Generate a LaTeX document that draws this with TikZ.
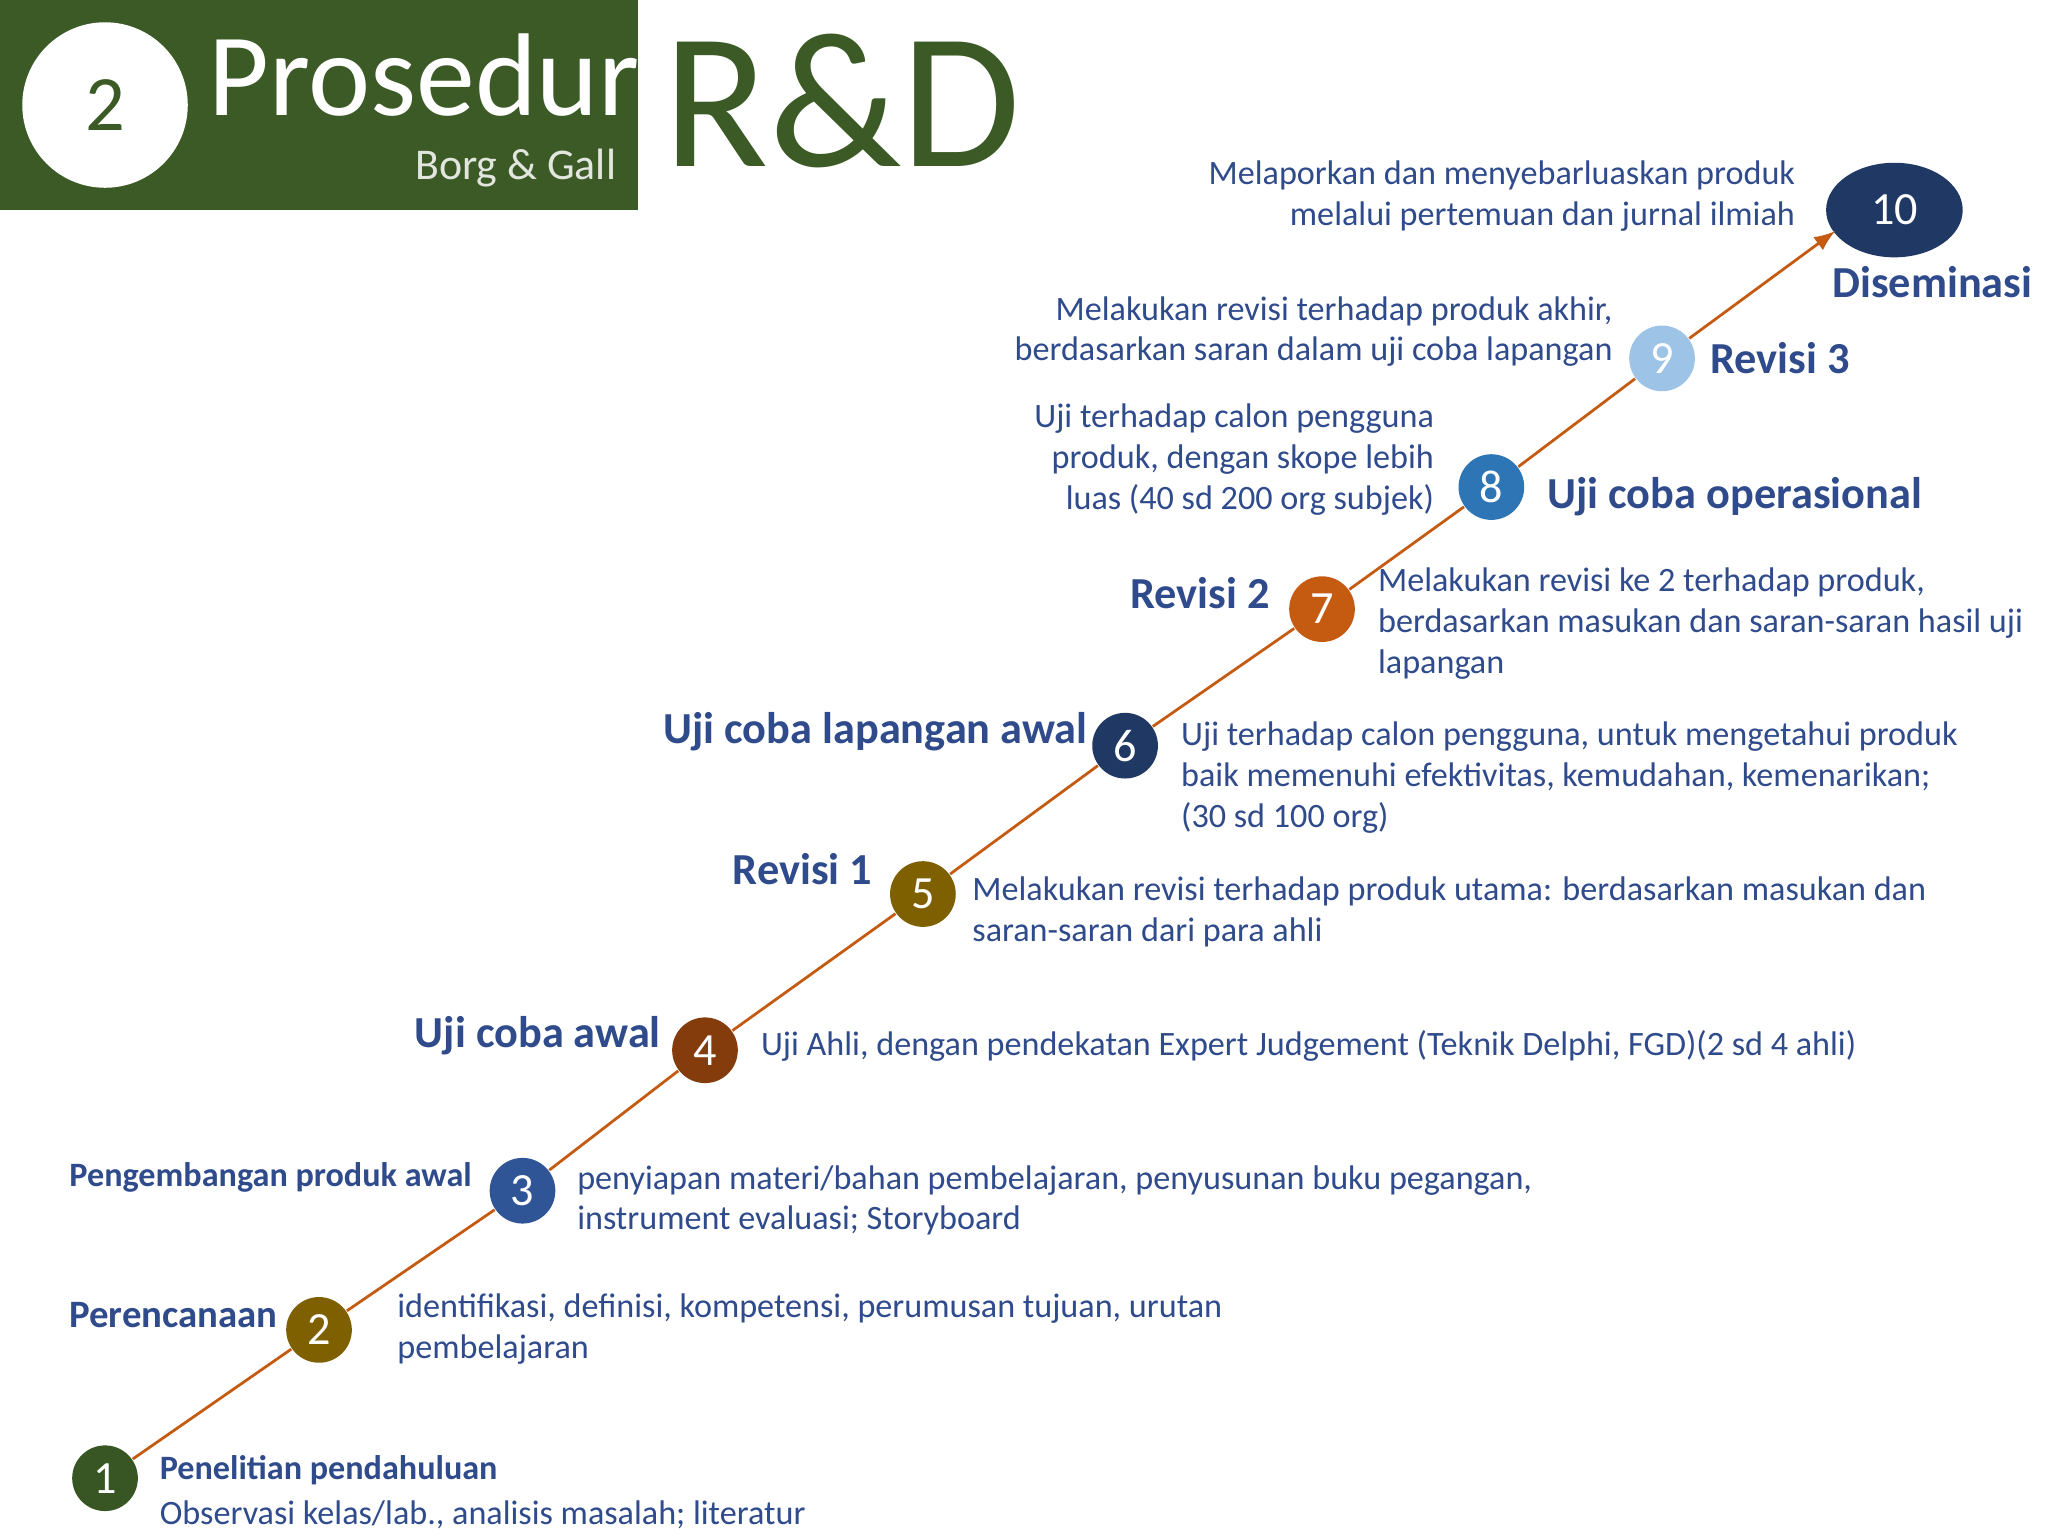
\documentclass[tikz,border=0pt]{standalone}
\usepackage{fontspec}
\setmainfont{Carlito}
\usetikzlibrary{shapes.geometric}
\definecolor{hdr}{HTML}{3B5A26}
\definecolor{tb}{HTML}{2F4B8C}
\definecolor{ln}{HTML}{C55A11}
\definecolor{c1}{HTML}{375623}
\definecolor{c2}{HTML}{7F6000}
\definecolor{c3}{HTML}{2F5597}
\definecolor{c4}{HTML}{843C0C}
\definecolor{c6}{HTML}{1F3864}
\definecolor{c8}{HTML}{2E75B6}
\definecolor{c9}{HTML}{9DC3E6}
\tikzset{
 body/.style={inner sep=0pt,text=tb,font=\fontsize{7.4}{8.85}\selectfont},
 lab/.style={inner sep=0pt,text=tb,font=\fontsize{9.6}{11}\selectfont\bfseries},
 slab/.style={inner sep=0pt,text=tb,font=\fontsize{7.4}{8.85}\selectfont\bfseries},
 stp/.style={circle,minimum size=0.5cm,inner sep=0pt,text=white,font=\fontsize{10}{11}\selectfont}
}
\begin{document}
\begin{tikzpicture}[x=0.01cm,y=-0.01cm]
\useasboundingbox (0,0) rectangle (1560,1170);
\fill[white] (0,0) rectangle (1560,1170);
\fill[hdr] (0,0) rectangle (486,160);
\node[circle,fill=white,minimum size=1.26cm,inner sep=0pt,text=hdr,font=\fontsize{17}{18}\selectfont] (c0) at (80,80) {2};
\node[inner sep=0pt,text=white,anchor=base west,font=\fontsize{25.5}{26}\selectfont] (pro) at (158,88) {Prosedur};
\node[inner sep=0pt,text=white!85!hdr,anchor=base east,font=\fontsize{9.5}{10}\selectfont] (bg) at (470,137) {Borg \& Gall};
\node[inner sep=0pt,text=hdr,anchor=base west,font=\fontsize{42}{44}\selectfont] (rd) at (505,127) {R\&D};
% steps
\node[stp,fill=c1] (s1) at (80,1126) {1};
\node[stp,fill=c2] (s2) at (243,1013) {2};
\node[stp,fill=c3] (s3) at (398,907) {3};
\node[stp,fill=c4] (s4) at (537,800) {4};
\node[stp,fill=c2] (s5) at (703,681) {5};
\node[stp,fill=c6] (s6) at (857,568) {6};
\node[stp,fill=ln] (s7) at (1007,464) {7};
\node[stp,fill=c8] (s8) at (1136,371) {8};
\node[stp,fill=c9] (s9) at (1266,273) {9};
\node[ellipse,fill=c6,minimum width=1.04cm,minimum height=0.72cm,inner sep=0pt,text=white,font=\fontsize{10}{11}\selectfont] (s10) at (1443,160) {10};
\coordinate (tip) at (1398,176);
\draw[ln,line width=0.6pt] (s1)--(s2)--(s3)--(s4)--(s5)--(s6)--(s7)--(s8)--(s9);
\draw[ln,line width=0.6pt,-latex] (s9)--(tip);
% labels
\node[slab,anchor=west] (l1) at (121,1120) {Penelitian pendahuluan};
\node[body,anchor=west] (d1) at (121,1154) {Observasi kelas/lab., analisis masalah; literatur};
\node[lab,font=\fontsize{8.4}{10}\selectfont\bfseries,anchor=west] (l2) at (52,1002) {Perencanaan};
\node[body,anchor=north west,align=left] (d2) at (302,985) {identifikasi, definisi, kompetensi, perumusan tujuan, urutan\\pembelajaran};
\node[slab,anchor=east] (l3) at (360,897) {Pengembangan produk awal};
\node[body,anchor=north west,align=left] (d3) at (439,887) {penyiapan materi/bahan pembelajaran, penyusunan buku pegangan,\\instrument evaluasi; Storyboard};
\node[lab,anchor=east] (l4) at (504,789) {Uji coba awal};
\node[body,anchor=west] (d4) at (579,797) {Uji Ahli, dengan pendekatan Expert Judgement (Teknik Delphi, FGD)(2 sd 4 ahli)};
\node[lab,anchor=east] (l5) at (665,662) {Revisi 1};
\node[body,anchor=north west,align=left] (d5) at (740,667) {Melakukan revisi terhadap produk utama: berdasarkan masukan dan\\saran-saran dari para ahli};
\node[lab,anchor=east] (l6) at (829,557) {Uji coba lapangan awal};
\node[body,anchor=north west,align=left] (d6) at (899,549) {Uji terhadap calon pengguna, untuk mengetahui produk\\baik memenuhi efektivitas, kemudahan, kemenarikan;\\(30 sd 100 org)};
\node[lab,anchor=east] (l7) at (968,452) {Revisi 2};
\node[body,anchor=north west,align=left] (d7) at (1049,432) {Melakukan revisi ke 2 terhadap produk,\\berdasarkan masukan dan saran-saran hasil uji\\lapangan};
\node[lab,anchor=west] (l8) at (1178,378) {Uji coba operasional};
\node[body,anchor=north east,align=right] (d8) at (1093,307) {Uji terhadap calon pengguna\\produk, dengan skope lebih\\luas (40 sd 200 org subjek)};
\node[lab,anchor=west] (l9) at (1302,273) {Revisi 3};
\node[body,anchor=north east,align=right] (d9) at (1229,225) {Melakukan revisi terhadap produk akhir,\\berdasarkan saran dalam uji coba lapangan};
\node[lab,anchor=west] (l10) at (1395,215) {Diseminasi};
\node[body,anchor=north east,align=right] (d10) at (1368,122) {Melaporkan dan menyebarluaskan produk\\melalui pertemuan dan jurnal ilmiah};
\end{tikzpicture}
\end{document}
